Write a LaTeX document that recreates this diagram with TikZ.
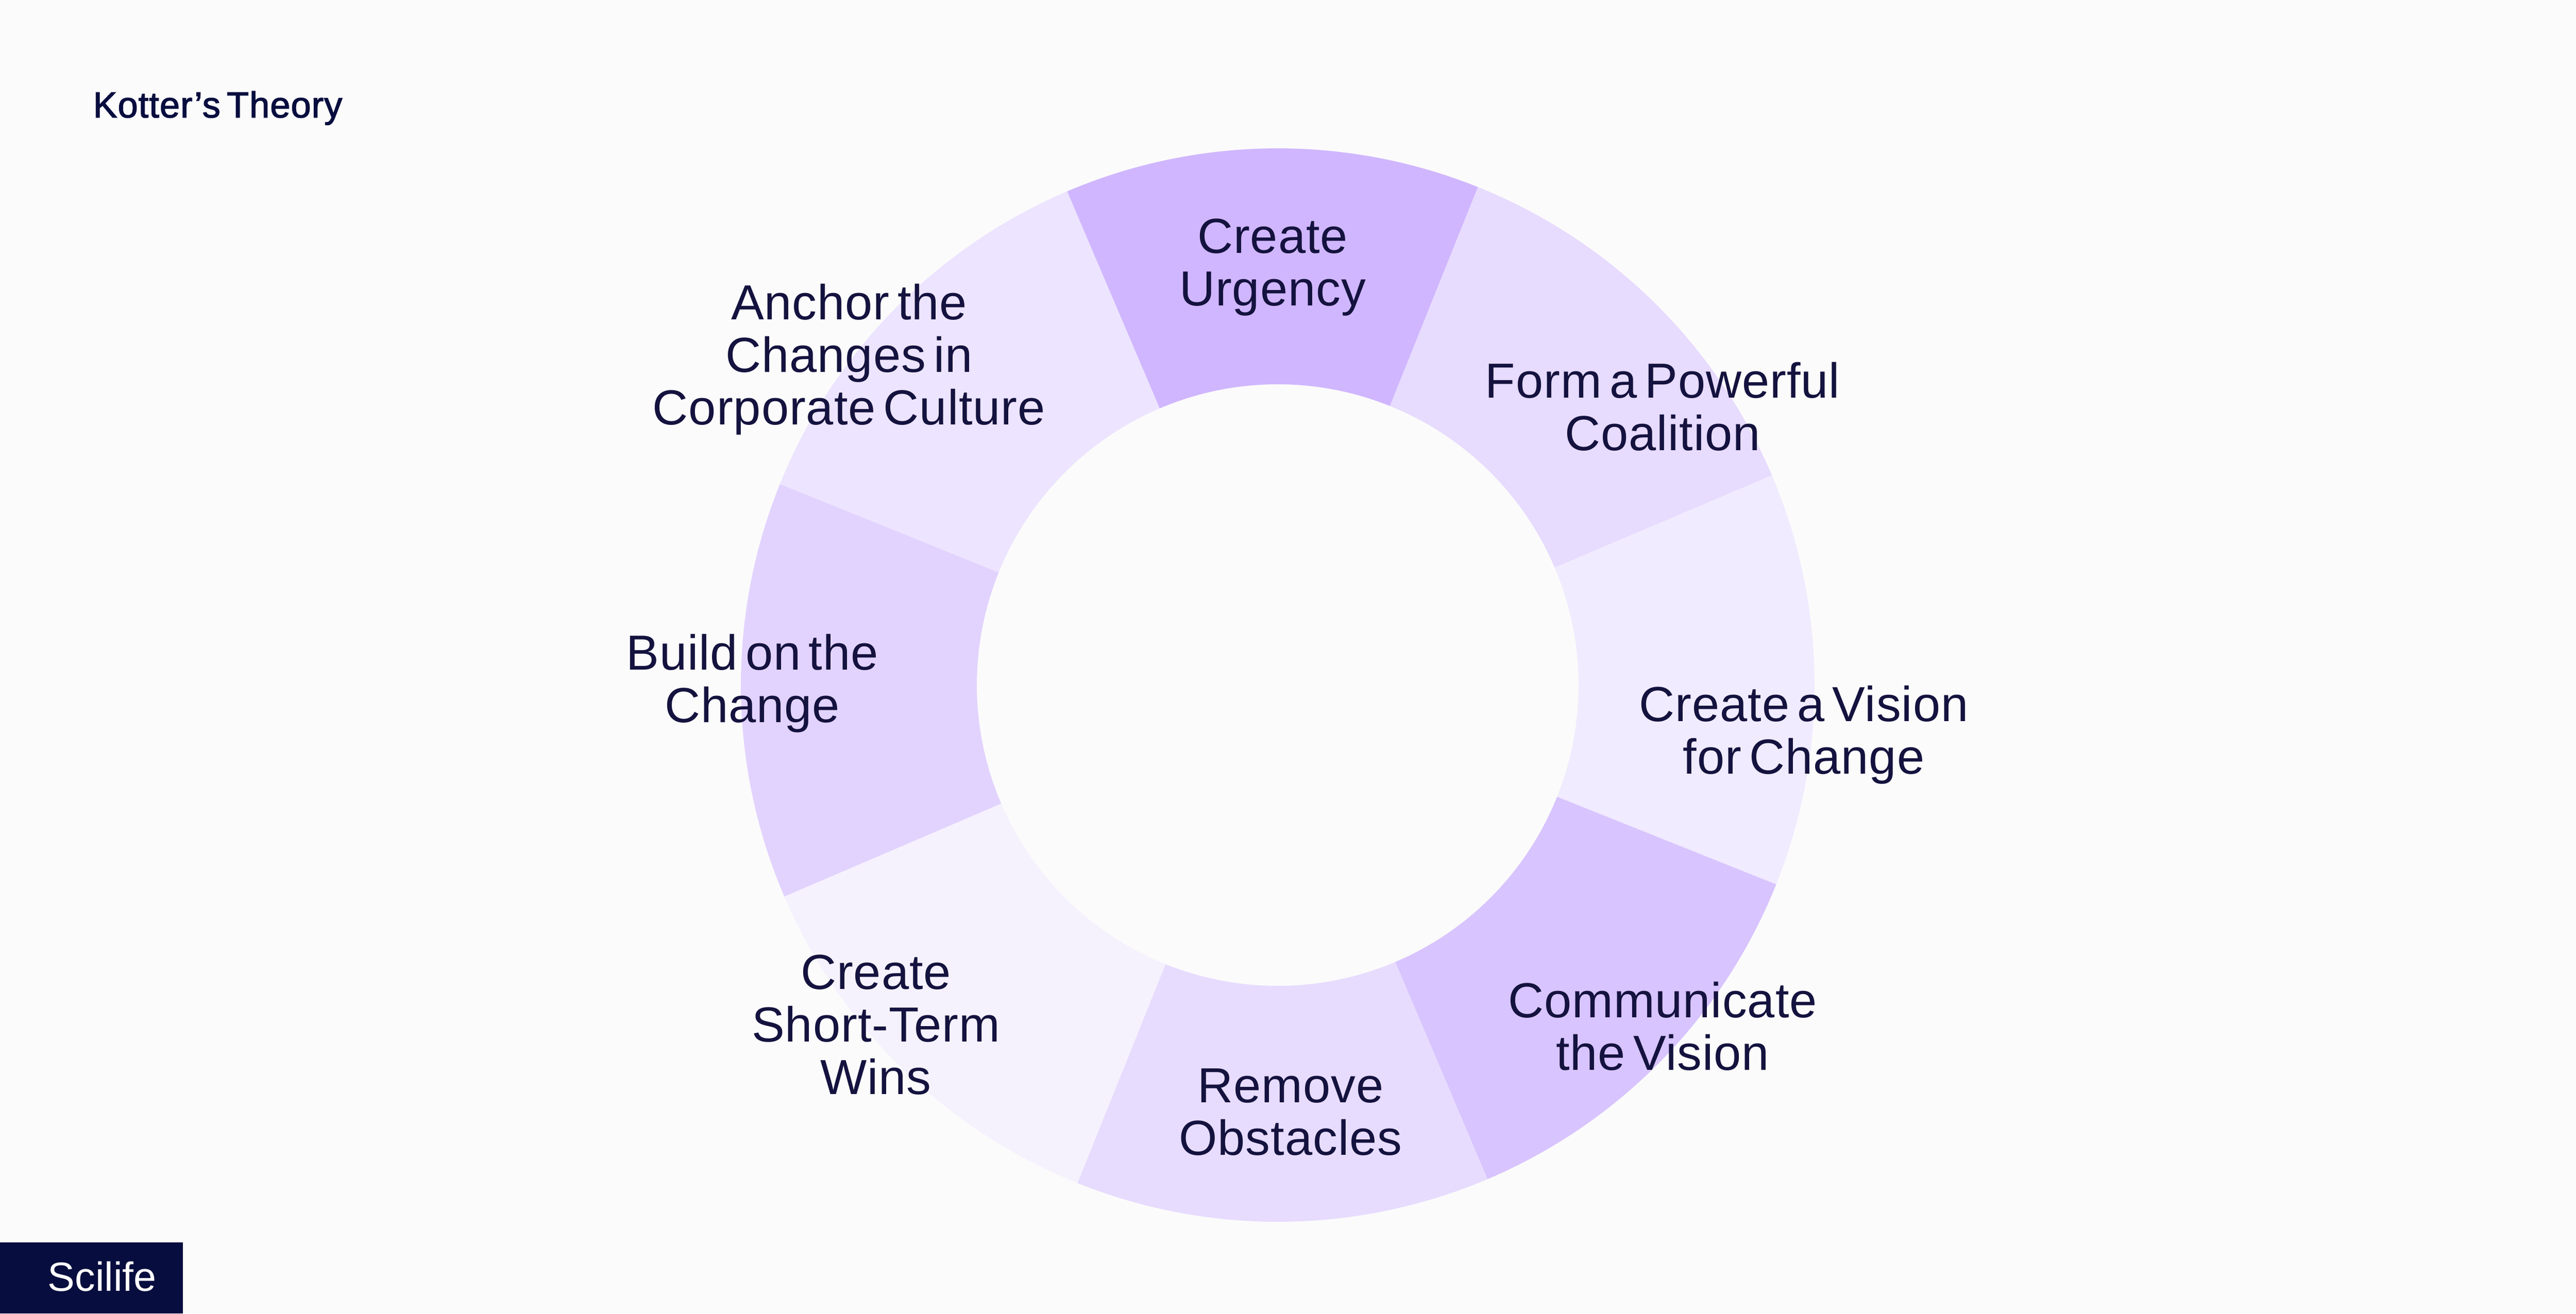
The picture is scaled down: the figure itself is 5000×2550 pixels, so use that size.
\documentclass[tikz,border=0pt]{standalone}
\usepackage{fontspec}
\setmainfont{Liberation Sans}
\newfontfamily\labelfont[LetterSpace=1,WordSpace=0.55]{Liberation Sans}
\newfontfamily\titlefont[FakeBold=2,LetterSpace=1.5,WordSpace=0.6]{Liberation Sans}
\definecolor{bgc}{HTML}{FBFBFB}
\definecolor{navy}{HTML}{070D3E}
\definecolor{ink}{HTML}{14123E}
\definecolor{sa}{HTML}{D0B6FE}
\definecolor{sb}{HTML}{E7DBFE}
\definecolor{sc}{HTML}{F0EBFE}
\definecolor{sd}{HTML}{D8C4FE}
\definecolor{se}{HTML}{E7DCFE}
\definecolor{sf}{HTML}{F5F2FE}
\definecolor{sg}{HTML}{E2D3FE}
\definecolor{sh}{HTML}{EDE4FF}
\newcommand{\ringseg}[3]{\fill[#3] (#1:1042) arc[start angle=#1,end angle=#2,radius=1042] -- (#2:584) arc[start angle=#2,end angle=#1,radius=584] -- cycle;}
\tikzset{
  seglabel/.style={text=ink,align=center,inner sep=0pt,font=\labelfont\fontsize{27.2}{29}\selectfont},
}
\begin{document}
\begin{tikzpicture}[x=0.01cm,y=0.01cm]
\useasboundingbox (0,0) rectangle (5000,2550);
\fill[bgc] (0,0) rectangle (5000,2550);
\begin{scope}[shift={(2480,1220)}]
\ringseg{68.1}{113.1}{sa}
\ringseg{23}{68.1}{sb}
\ringseg{-21.8}{23}{sc}
\ringseg{-67}{-21.8}{sd}
\ringseg{-111.9}{-67}{se}
\ringseg{-156.8}{-111.9}{sf}
\ringseg{-202}{-156.8}{sg}
\ringseg{113.1}{158}{sh}
\end{scope}
\node[seglabel] (urgency) at (2470,2031) {Create\\Urgency};
\node[seglabel] (coalition) at (3227,1761) {Form a Powerful\\Coalition};
\node[seglabel] (vision) at (3501,1123) {Create a Vision\\for Change};
\node[seglabel] (communicate) at (3227,558) {Communicate\\the Vision};
\node[seglabel] (obstacles) at (2505,391) {Remove\\Obstacles};
\node[seglabel] (wins) at (1700,560) {Create\\Short-Term\\Wins};
\node[seglabel] (build) at (1460,1223) {Build on the\\Change};
\node[seglabel] (anchor) at (1648,1852) {Anchor the\\Changes in\\Corporate Culture};
\node[text=navy,anchor=base west,inner sep=0pt,font=\titlefont\fontsize{20}{22}\selectfont] (title) at (180,2322) {Kotter’s Theory};
\fill[navy] (0,0) rectangle (355,138);
\node[text=white,anchor=base west,inner sep=0pt,font=\fontsize{22.5}{26}\selectfont] (logo) at (92,44) {Scilife};
\end{tikzpicture}
\end{document}
